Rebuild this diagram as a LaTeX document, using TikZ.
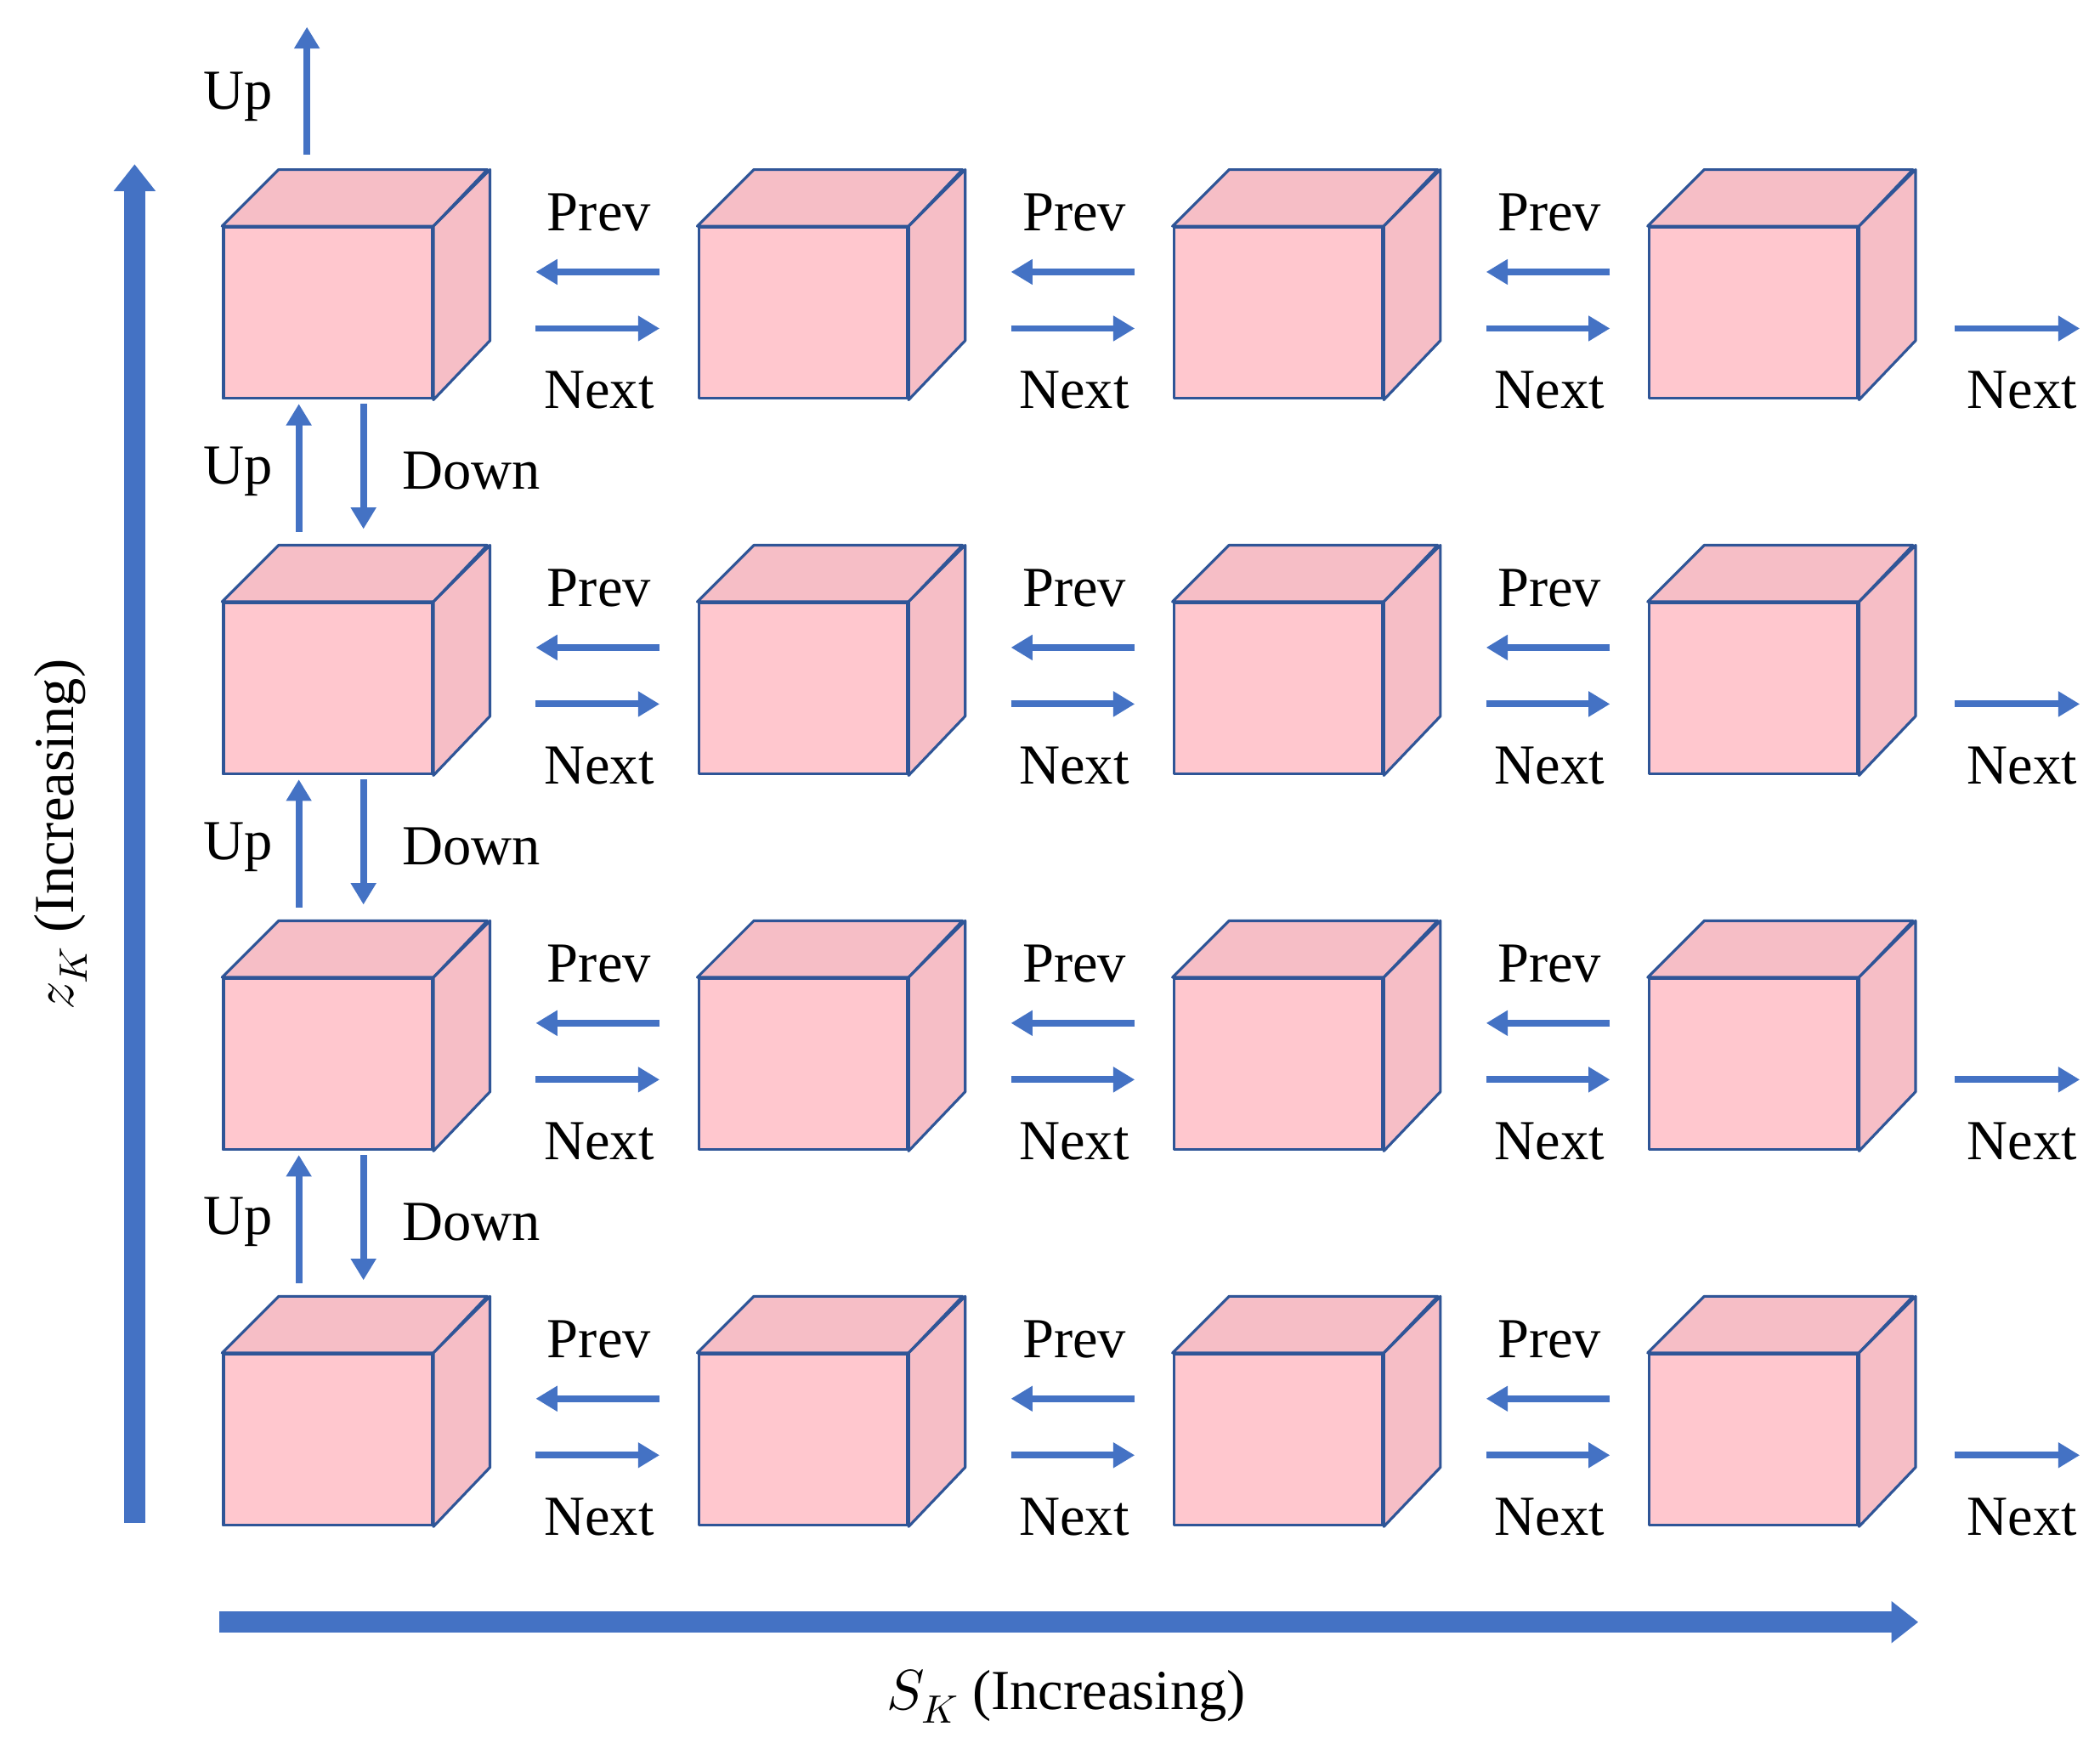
\documentclass[tikz,border=0pt]{standalone}
\usepackage{fontspec}
\setmainfont{Liberation Serif}
\usepackage{unicode-math}
\setmathfont{Latin Modern Math}
\usetikzlibrary{arrows.meta}
\definecolor{ablue}{RGB}{68,114,196}
\definecolor{cedge}{RGB}{47,85,151}
\definecolor{cfront}{RGB}{255,199,206}
\definecolor{cside}{RGB}{246,190,198}
\tikzset{
 face/.style={draw=cedge,line width=2pt,line join=round},
 front/.style={face,fill=cfront,minimum width=155pt,minimum height=127pt,inner sep=0pt,anchor=north west},
 arr/.style={draw=ablue,line width=5pt,-{Triangle[length=16pt,width=18pt]}},
 bigarr/.style={draw=ablue,line width=16pt,-{Triangle[length=20pt,width=30pt]}},
 lbl/.style={font=\fontsize{42}{48}\selectfont,inner sep=0pt}
}
\begin{document}
\begin{tikzpicture}[x=1pt,y=-1pt]
\useasboundingbox (0,0) rectangle (1560,1299);
\foreach \r in {0,1,2,3}{
 \foreach \c in {0,1,2,3}{
  \pgfmathsetmacro{\X}{165+353*\c}
  \pgfmathsetmacro{\Y}{168+279*\r}
  \node[front] (f\r\c) at (\X,\Y) {};
  \draw[face,fill=cside] (f\r\c.north west) -- ++(42,-42) -- ++(155,0) -- (f\r\c.north east) -- cycle;
  \draw[face,fill=cside] (f\r\c.north east) -- ++(42,-42) -- ++(0,127) -- (f\r\c.south east) -- cycle;
  \node[front] at (\X,\Y) {};
  \pgfmathsetmacro{\AY}{\Y+34}
  \pgfmathsetmacro{\BY}{\Y+76}
  \ifnum\c<3
   \pgfmathsetmacro{\PX}{\X+325}
   \pgfmathsetmacro{\QX}{\X+233}
   \coordinate (pa\r\c) at (\PX,\AY); \coordinate (pb\r\c) at (\QX,\AY);
   \coordinate (na\r\c) at (\QX,\BY); \coordinate (nb\r\c) at (\PX,\BY);
   \draw[arr] (pa\r\c) -- (pb\r\c);
   \draw[arr] (na\r\c) -- (nb\r\c);
   \node[lbl] (pl\r\c) at (\X+280,\Y-10) {Prev};
   \node[lbl] (nl\r\c) at (\X+280,\Y+122) {Next};
  \else
   \coordinate (na\r\c) at (1452,\BY); \coordinate (nb\r\c) at (1545,\BY);
   \draw[arr] (na\r\c) -- (nb\r\c);
   \node[lbl] (nl\r\c) at (1502,\Y+122) {Next};
  \fi
 }
}
% vertical links
\foreach \r/\s in {1/0,2/1,3/2}{
 \pgfmathsetmacro{\Y}{168+279*\s}
 \coordinate (ua\r) at (222,\Y+227); \coordinate (ub\r) at (222,\Y+132);
 \coordinate (da\r) at (270,\Y+132); \coordinate (db\r) at (270,\Y+225);
 \draw[arr] (ua\r) -- (ub\r);
 \draw[arr] (da\r) -- (db\r);
 \node[lbl] (ul\r) at (177,\Y+182) {Up};
 \node[lbl] (dl\r) at (350,\Y+182) {Down};
}
\coordinate (tu1) at (228,115); \coordinate (tu2) at (228,20);
\draw[arr] (tu1) -- (tu2);
\node[lbl] (ul0) at (177,72) {Up};
% axes
\coordinate (va) at (100,1131); \coordinate (vb) at (100,122);
\draw[bigarr] (va) -- (vb);
\coordinate (ha) at (163,1205); \coordinate (hb) at (1425,1205);
\draw[bigarr] (ha) -- (hb);
\node[lbl] (sl) at (792,1260) {$S_K$ (Increasing)};
\node[lbl,rotate=90] (zl) at (45,620) {$z_K$ (Increasing)};
\end{tikzpicture}
\end{document}
